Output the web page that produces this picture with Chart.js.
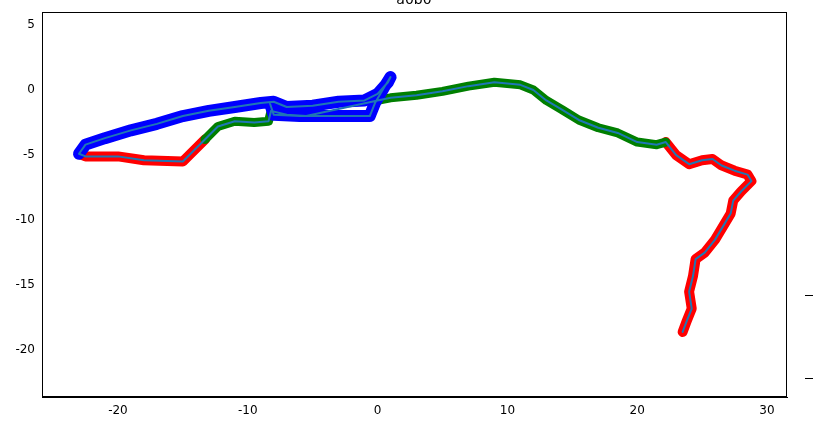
<!DOCTYPE html>
<html><head><meta charset="utf-8">
<script src="https://cdn.jsdelivr.net/npm/chart.js@4"></script>
<style>body{margin:0;background:#fff}#wrap{width:813px;height:432px}</style>
</head><body><div id="wrap"><canvas id="c"></canvas></div>
<script>
const redA = [[23.5,-18.6],[23.8,-17.8],[24.2,-16.8],[24.0,-15.5],[24.3,-14.3],[24.5,-13],[25.2,-12.5],[26,-11.5],[26.6,-10.5],[27.2,-9.5],[27.4,-8.5],[28,-7.8],[28.8,-7],[28.5,-6.5],[27.5,-6.2],[26.5,-5.8],[25.8,-5.3],[25,-5.4],[24,-5.7],[23,-5],[22.2,-4]];
const greenA = [[22.2,-4],[21.5,-4.2],[20,-4],[18.5,-3.3],[17,-2.9],[15.5,-2.3],[14.2,-1.5],[13,-0.8],[12,0],[11,0.4],[9,0.6],[7,0.3],[5,-0.1],[3,-0.4],[1,-0.6],[0,-0.8]];
const greenB = [[-5.5,-2],[-7,-1.9],[-8.2,-1.6],[-8.4,-2.4],[-9.5,-2.5],[-11,-2.4],[-12.3,-2.8],[-13.3,-3.8]];
const redB = [[-13.3,-3.8],[-15,-5.5],[-18,-5.4],[-20,-5.1],[-22.5,-5.1],[-23,-4.9]];
const blueA = [[-23,-4.9],[-22.5,-4.2],[-21,-3.7],[-19,-3.1],[-17,-2.6],[-15,-2],[-13,-1.6],[-11,-1.3],[-9,-1.0],[-8,-0.9],[-7,-1.3],[-5,-1.2],[-3,-0.9],[-1,-0.8],[0,-0.3],[0.8,0.6],[1,1],[0.5,0.2],[-0.2,-1],[-0.6,-2],[-3,-2],[-6,-2],[-8,-1.9],[-8.3,-1]];
const xTicks = [-20,-10,0,10,20,30];
const yTicks = [5,0,-5,-10,-15,-20];
const pathAll = [...redA, ...greenA, ...greenB, ...redB, ...blueA];

const pts = a => a.map(([x,y]) => ({x,y}));
const band = (data, color, w, order) => ({data: pts(data), showLine: true, borderColor: color, borderWidth: w,
  pointRadius: 0, borderCapStyle: 'round', borderJoinStyle: 'round', order});

const extras = {
  id: 'extras',
  afterDraw(chart) {
    const ctx = chart.ctx, a = chart.chartArea;
    ctx.save();
    ctx.strokeStyle = '#000'; ctx.lineWidth = 1;
    ctx.strokeRect(a.left + 0.5, a.top + 0.5, a.right - a.left - 1, a.bottom - a.top - 1);
    ctx.fillStyle = '#000';
    ctx.font = '14px "DejaVu Sans"';
    ctx.textAlign = 'center';
    ctx.textBaseline = 'alphabetic';
    ctx.fillText('a0b0', 414, 4);
    [295, 378].forEach(y => { ctx.beginPath(); ctx.moveTo(805, y + 0.5); ctx.lineTo(813, y + 0.5); ctx.stroke(); });
    ctx.restore();
  }
};

const tickFilter = list => scale => { scale.ticks = list.map(v => ({value: v})); };

new Chart(document.getElementById('c'), {
  type: 'scatter',
  data: { datasets: [
    band(pathAll, '#1f77b4', 2, 0),
    band(blueA, '#0000ff', 12, 1),
    band(greenA, '#007f00', 9, 2),
    band(greenB, '#007f00', 9, 2),
    band(redA, '#ff0000', 10, 3),
    band(redB, '#ff0000', 10, 3)
  ]},
  options: {
    responsive: true, maintainAspectRatio: false, animation: false,
    layout: { padding: { top: 12, right: 26, left: 0, bottom: 0 } },
    plugins: { legend: { display: false }, tooltip: { enabled: false } },
    scales: {
      x: { type: 'linear', min: -25.85, max: 31.54,
        afterBuildTicks: tickFilter(xTicks),
        afterFit: s => { s.height = 35; },
        grid: { display: false, drawTicks: true, tickLength: 4, color: '#000' },
        border: { color: '#000', width: 1 },
        ticks: { color: '#000', font: { family: 'DejaVu Sans', size: 12 }, padding: 3, maxRotation: 0 } },
      y: { type: 'linear', min: -23.6, max: 6.0,
        afterBuildTicks: tickFilter(yTicks),
        afterFit: s => { s.width = 42; },
        grid: { display: false, drawTicks: true, tickLength: 4, color: '#000' },
        border: { color: '#000', width: 1 },
        ticks: { color: '#000', font: { family: 'DejaVu Sans', size: 12 }, padding: 3 } }
    }
  },
  plugins: [extras]
});
</script></body></html>
